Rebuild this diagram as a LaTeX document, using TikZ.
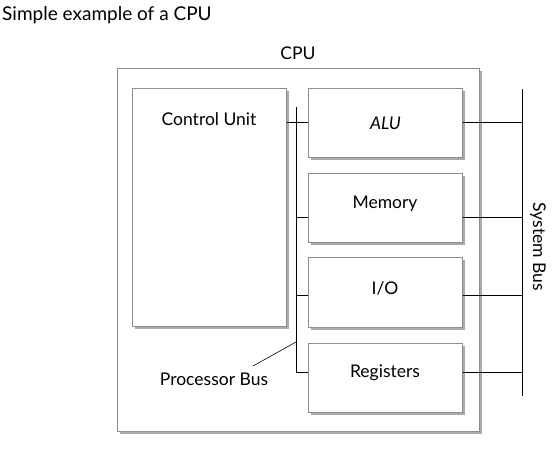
\documentclass[tikz,border=0pt]{standalone}
\usepackage{fontspec}
\setmainfont{Lato}
\usetikzlibrary{shadows,calc}
\definecolor{boxline}{HTML}{8C8C8C}
\definecolor{shade}{HTML}{ABABAB}
\tikzset{
  unitbox/.style={draw=boxline, line width=0.9pt, fill=white, anchor=north west,
    inner sep=0pt, font=\fontsize{17.5}{19}\selectfont,
    drop shadow={shadow xshift=3pt, shadow yshift=-3pt, fill=shade, opacity=1}},
  wire/.style={draw=black, line width=0.8pt},
  lbl/.style={font=\fontsize{17.5}{19}\selectfont, inner sep=0pt}
}
\begin{document}
\begin{tikzpicture}[x=1pt,y=-1pt]
\useasboundingbox (0,0) rectangle (556,463);
\node[lbl, anchor=west, font=\fontsize{19}{21}\selectfont] (title) at (2,15) {Simple example of a CPU};
\node[unitbox, minimum width=362pt, minimum height=363pt] (cpu) at (117,68) {};
\node[lbl] (cpulbl) at (298,53) {CPU};
\node[unitbox, minimum width=154pt, minimum height=238pt] (cu) at (132,88) {};
\node[lbl] (cutext) at (209,119) {Control Unit};
\node[unitbox, minimum width=154pt, minimum height=69pt] (alu) at (308,88) {\itshape ALU};
\node[unitbox, minimum width=154pt, minimum height=69pt] (mem) at (308,173) {};
\node[lbl] (memtext) at (385,204) {Memory};
\node[unitbox, minimum width=154pt, minimum height=70pt] (io) at (308,257) {};
\node[lbl] (iotext) at (385,288) {I/O};
\node[unitbox, minimum width=154pt, minimum height=69pt] (reg) at (308,343) {};
\node[lbl] (regtext) at (385,373) {Registers};
% processor bus
\coordinate (pbtop) at (296,107);
\coordinate (pbbot) at (296,372);
\coordinate (aluy) at ($(alu.north west)+(0,34)$);
\coordinate (memy) at ($(mem.north west)+(0,44)$);
\coordinate (ioy) at ($(io.north west)+(0,38)$);
\coordinate (regy) at ($(reg.north west)+(0,29)$);
\draw[wire] (pbtop) -- (pbbot) -- (regy);
\draw[wire] (cu.east |- aluy) -- (aluy);
\draw[wire] (pbtop |- memy) -- (memy);
\draw[wire] (pbtop |- ioy) -- (ioy);
% system bus
\coordinate (sbtop) at (522,89);
\coordinate (sbbot) at (522,396);
\draw[wire] (sbtop) -- (sbbot);
\draw[wire] (alu.east |- aluy) -- (sbtop |- aluy);
\draw[wire] (mem.east |- memy) -- (sbtop |- memy);
\draw[wire] (io.east |- ioy) -- (sbtop |- ioy);
\draw[wire] (reg.east |- regy) -- (sbtop |- regy);
\node[lbl, rotate=-90] (sblbl) at (538,247) {System Bus};
% processor bus label
\node[lbl] (pblbl) at (214,379) {Processor Bus};
\coordinate (pbpt) at (296,342);
\draw[line width=0.6pt] (253,366) -- (pbpt);
\end{tikzpicture}
\end{document}
